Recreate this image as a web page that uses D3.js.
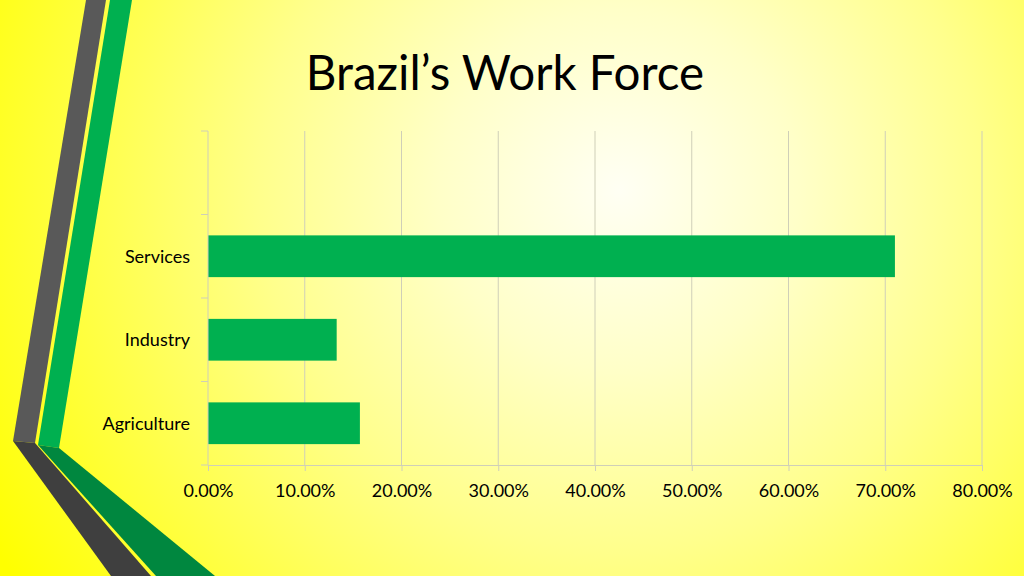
<!DOCTYPE html>
<html>
<head>
<meta charset="utf-8">
<script src="https://cdn.jsdelivr.net/npm/d3@7/dist/d3.min.js"></script>
<style>
  html, body { margin: 0; padding: 0; background: #ffff00; }
  svg { display: block; }
  text { font-family: Lato, "Open Sans", sans-serif; }
</style>
</head>
<body>
<svg id="chart" width="1024" height="576"></svg>
<script>
// ---- data ----
const title = "Brazil\u2019s Work Force";
const categories = ["Agriculture", "Industry", "Services", ""];
const values = [0.157, 0.133, 0.71, null];
const xTicks = [0, 0.1, 0.2, 0.3, 0.4, 0.5, 0.6, 0.7, 0.8];

const W = 1024, H = 576;
const svg = d3.select("#chart");
const defs = svg.append("defs");

// background radial gradient
const rg = defs.append("radialGradient").attr("id", "bg")
  .attr("gradientUnits", "userSpaceOnUse")
  .attr("cx", 620).attr("cy", 190).attr("r", 720);
[[0, "#fffff4"], [0.25, "#ffffc8"], [0.5, "#ffff8c"], [0.75, "#ffff45"], [1, "#ffff00"]]
  .forEach(([o, c]) => rg.append("stop").attr("offset", o).attr("stop-color", c));
svg.append("rect").attr("width", W).attr("height", H).attr("fill", "url(#bg)");

// decorative stripes
const deco = svg.append("g");
const shapes = [
  { pts: [[86,0],[106,0],[35,443],[13,441]], fill: "#595959" },
  { pts: [[13,441],[35,443],[151,576],[111,576]], fill: "#3f3f3f" },
  { pts: [[110,0],[132,0],[59,448],[38,445]], fill: "#00b050" },
  { pts: [[38,445],[59,448],[215,576],[156,576]], fill: "#00873f" }
];
deco.selectAll("polygon").data(shapes).join("polygon")
  .attr("points", d => d.pts.map(p => p.join(",")).join(" "))
  .attr("fill", d => d.fill);

// title
svg.append("text")
  .attr("x", 505).attr("y", 90)
  .attr("text-anchor", "middle")
  .attr("font-size", 47.5)
  .attr("fill", "#000")
  .text(title);

// scales
const plot = { left: 208, right: 982, top: 131, bottom: 465 };
const x = d3.scaleLinear().domain([0, 0.8]).range([plot.left, plot.right]);
const y = d3.scaleBand().domain(categories).range([plot.bottom, plot.top])
  .paddingInner(0.5).paddingOuter(0.25);

const gridColor = "#cfcfb8";

// gridlines
svg.append("g").selectAll("line").data(xTicks.slice(1)).join("line")
  .attr("x1", d => x(d)).attr("x2", d => x(d))
  .attr("y1", plot.top).attr("y2", plot.bottom)
  .attr("stroke", gridColor).attr("stroke-width", 1);

// bars
svg.append("g").selectAll("rect")
  .data(categories.map((c, i) => ({ c, v: values[i] })).filter(d => d.v != null))
  .join("rect")
  .attr("x", x(0))
  .attr("y", d => y(d.c))
  .attr("width", d => x(d.v) - x(0))
  .attr("height", y.bandwidth())
  .attr("fill", "#00b050");

// x axis
const xAxis = svg.append("g").attr("transform", `translate(0,${plot.bottom})`)
  .call(d3.axisBottom(x).tickValues(xTicks).tickFormat(d3.format(".2%")).tickSize(6).tickSizeOuter(0));
xAxis.select(".domain").attr("stroke", gridColor);
xAxis.selectAll(".tick line").attr("stroke", gridColor);
xAxis.selectAll(".tick text")
  .attr("font-family", "Lato, sans-serif")
  .attr("font-size", 18).attr("fill", "#000")
  .attr("dy", null).attr("y", 32);

// y axis
const step = y.step();
const yBoundaries = d3.range(categories.length + 1).map(i => plot.bottom - i * step);
const yAxisG = svg.append("g");
yAxisG.append("line")
  .attr("x1", plot.left).attr("x2", plot.left)
  .attr("y1", plot.top).attr("y2", plot.bottom)
  .attr("stroke", gridColor);
yAxisG.selectAll("line.tk").data(yBoundaries).join("line").attr("class", "tk")
  .attr("x1", plot.left - 7).attr("x2", plot.left)
  .attr("y1", d => d).attr("y2", d => d)
  .attr("stroke", gridColor);
yAxisG.selectAll("text").data(categories.filter(c => c)).join("text")
  .attr("x", 190)
  .attr("y", d => y(d) + y.bandwidth() / 2)
  .attr("dy", "0.35em")
  .attr("text-anchor", "end")
  .attr("font-size", 18)
  .attr("fill", "#000")
  .text(d => d);
</script>
</body>
</html>
